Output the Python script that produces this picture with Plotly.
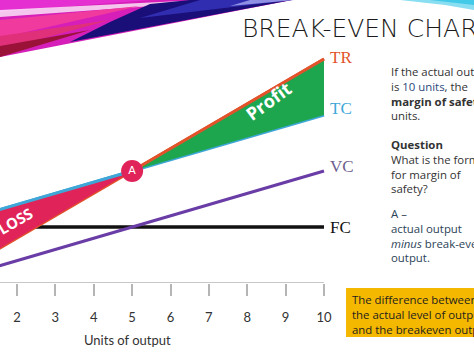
import plotly.graph_objects as go

# ---- data ----
output = [0, 5, 10]            # units of output
total_revenue = [0, 40, 80]    # TR
total_cost = [20, 40, 60]      # TC
variable_cost = [0, 20, 40]    # VC
fixed_cost = [20, 20, 20]      # FC
tick_vals = [2, 3, 4, 5, 6, 7, 8, 9, 10]
tick_labels = ["2", "3", "4", "5", "6", "7", "8", "9", "10"]
line_labels = ["TR", "TC", "VC", "FC"]

W, H = 474, 355
X_RANGE = [1.557, 13.909]
Y_RANGE = [0, 101.07]
Y_DOMAIN = [0.2028, 1.0]

RED = "#e0245a"
GREEN = "#1ea64f"
ORANGE = "#e2532b"
BLUE = "#3ea7d8"
PURPLE = "#6a3ca6"


def px(x, y):
    """pixel -> paper coordinates (for decorations only)"""
    return x / W, 1 - y / H


fig = go.Figure()

# fixed cost
fig.add_trace(go.Scatter(x=output, y=fixed_cost, mode="lines",
                         line=dict(color="#111111", width=3.5), hoverinfo="skip"))
# total cost (full)
fig.add_trace(go.Scatter(x=output, y=total_cost, mode="lines",
                         line=dict(color=BLUE, width=3), hoverinfo="skip"))
# total revenue (full)
fig.add_trace(go.Scatter(x=output, y=total_revenue, mode="lines",
                         line=dict(color=ORANGE, width=3), hoverinfo="skip"))
# profit wedge
fig.add_trace(go.Scatter(x=[output[1], output[2], output[2], output[1]],
                         y=[total_revenue[1], total_revenue[2], total_cost[2], total_revenue[1]],
                         fill="toself", fillcolor=GREEN, mode="lines",
                         line=dict(width=0, color=GREEN), hoverinfo="skip"))
# loss wedge
fig.add_trace(go.Scatter(x=[output[0], output[1], output[0], output[0]],
                         y=[total_cost[0], total_revenue[1], total_revenue[0], total_cost[0]],
                         fill="toself", fillcolor=RED, mode="lines",
                         line=dict(width=0, color=RED), hoverinfo="skip"))
# visible edges
fig.add_trace(go.Scatter(x=output[:2], y=total_cost[:2], mode="lines",
                         line=dict(color=BLUE, width=3), hoverinfo="skip"))
fig.add_trace(go.Scatter(x=output[1:], y=total_revenue[1:], mode="lines",
                         line=dict(color=ORANGE, width=3), hoverinfo="skip"))
# variable cost
fig.add_trace(go.Scatter(x=output, y=variable_cost, mode="lines",
                         line=dict(color=PURPLE, width=3), hoverinfo="skip"))
# break-even point A
fig.add_trace(go.Scatter(x=[output[1]], y=[total_revenue[1]], mode="markers+text",
                         marker=dict(size=22, color=RED, symbol="circle"),
                         text=["A"], textposition="middle center",
                         textfont=dict(color="white", size=11, family="DejaVu Sans"),
                         hoverinfo="skip"))

annotations = []
# line labels
label_colors = [ORANGE, BLUE, "#6e5f8e", "#111111"]
label_y = [total_revenue[-1], total_cost[-1], variable_cost[-1], fixed_cost[-1]]
label_yshift = [2, 7, 5, 0]
for lab, col, yv, ys in zip(line_labels, label_colors, label_y, label_yshift):
    annotations.append(dict(x=output[-1], y=yv, xref="x", yref="y", text=lab,
                            xanchor="left", yanchor="middle", xshift=4, yshift=ys,
                            showarrow=False,
                            font=dict(family="Liberation Serif", size=17, color=col)))
# wedge texts
annotations.append(dict(x=8.55, y=65, xref="x", yref="y", text="<b>Profit</b>",
                        textangle=-36, showarrow=False,
                        font=dict(family="Open Sans", size=18, color="white")))
annotations.append(dict(x=1.95, y=22, xref="x", yref="y", text="<b>LOSS</b>",
                        textangle=-30, showarrow=False,
                        font=dict(family="Open Sans", size=15, color="white")))

# axis title
ax, ay = px(127, 340)
annotations.append(dict(x=ax, y=ay, xref="paper", yref="paper", text="Units of output",
                        showarrow=False, xanchor="center", yanchor="middle",
                        font=dict(family="Lato", size=13, color="#333333")))

# title
tx, ty = px(240, 28)
annotations.append(dict(x=tx, y=ty, xref="paper", yref="paper", text="BREAK-EVEN CHART",
                        showarrow=False, xanchor="left", yanchor="middle",
                        font=dict(family="DejaVu Sans", size=25, color="#1a1a1a", weight=300)))

# side text blocks
side_blocks = [
    ("If the actual output<br>is <span style='color:#2a4a7a'>10 units</span>, the<br>"
     "<b>margin of safety</b> is 5<br>units.", 62, "#333333"),
    ("<b>Question</b><br>What is the formula<br>for margin of<br>safety?", 135, "#333333"),
    ("A –<br>actual output<br><i>minus</i> break-even<br>output.", 204, "#2b4357"),
]
for txt, yy, col in side_blocks:
    sx, sy = px(389, yy)
    annotations.append(dict(x=sx, y=sy, xref="paper", yref="paper", text=txt,
                            showarrow=False, xanchor="left", yanchor="top", align="left",
                            font=dict(family="Open Sans", size=11.4, color=col)))

bx, by = px(350, 290)
annotations.append(dict(x=bx, y=by, xref="paper", yref="paper",
                        text="The difference between<br>the actual level of output<br>"
                             "and the breakeven output",
                        showarrow=False, xanchor="left", yanchor="top", align="left",
                        font=dict(family="Open Sans", size=11.4, color="#1e1e1e")))

shapes = []


def poly(points, color, opacity=1.0, layer="below"):
    pts = [px(x, y) for x, y in points]
    path = "M " + " L ".join(f"{a:.4f},{b:.4f}" for a, b in pts) + " Z"
    shapes.append(dict(type="path", path=path, xref="paper", yref="paper",
                       fillcolor=color, opacity=opacity, line=dict(width=0), layer=layer))


# top-left decorative streaks
poly([(0, 0), (292, 0), (0, 57)], "#d61fb8")
poly([(0, 0), (150, 0), (0, 12)], "#e52fd0")
poly([(0, 10), (180, 1), (180, 4), (0, 17)], "#ffffff", 0.75)
poly([(0, 20), (140, 6), (0, 38)], "#f03a9e")
poly([(0, 36), (110, 20), (0, 50)], "#e0307a")
poly([(0, 46), (90, 30), (0, 57)], "#9a1238")
poly([(150, 4), (190, 0), (292, 0), (70, 42), (110, 22)], "#1a0f78")
poly([(200, 0), (292, 0), (140, 18)], "#3b3bc8", 0.7)
poly([(250, 0), (295, 0), (230, 6)], "#a8a8f0", 0.8)
# top-right cyan streak
poly([(400, 0), (474, 0), (474, 10), (445, 5)], "#6cd6ee", 0.8)
poly([(430, 0), (474, 0), (474, 5)], "#3cc8e8", 0.9)

# orange box
x0, y1 = px(346, 288)
x1, y0 = px(480, 337)
shapes.append(dict(type="rect", xref="paper", yref="paper", x0=x0, x1=x1, y0=y0, y1=y1,
                   fillcolor="#f5b800", line=dict(width=0), layer="below"))

# x axis base line
shapes.append(dict(type="line", xref="x", yref="y", x0=X_RANGE[0], x1=tick_vals[-1],
                   y0=0, y1=0, line=dict(color="#b5b5b5", width=1.5), layer="above"))

fig.update_layout(
    width=W, height=H,
    margin=dict(l=0, r=0, t=0, b=0),
    paper_bgcolor="white", plot_bgcolor="rgba(0,0,0,0)",
    showlegend=False,
    xaxis=dict(range=X_RANGE, domain=[0, 1], showgrid=False, zeroline=False, showline=False,
               tickmode="array", tickvals=tick_vals, ticktext=tick_labels,
               ticks="outside", ticklen=12, tickwidth=1.5, tickcolor="#b5b5b5",
               ticklabelstandoff=10,
               tickfont=dict(family="Lato", size=13, color="#333333"),
               fixedrange=True),
    yaxis=dict(range=Y_RANGE, domain=Y_DOMAIN, visible=False, fixedrange=True),
    annotations=annotations,
    shapes=shapes,
)

fig.write_html("out.html")
